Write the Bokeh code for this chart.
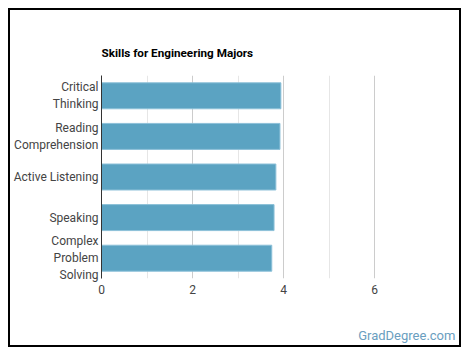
from bokeh.plotting import figure
from bokeh.models import FixedTicker, Range1d, LinearAxis
from bokeh.embed import file_html
from bokeh.resources import INLINE

skills = ["Critical\nThinking", "Reading\nComprehension", "Active Listening",
          "Speaking", "Complex\nProblem\nSolving"]
values = [3.94, 3.92, 3.83, 3.79, 3.74]
x_ticks = [0, 2, 4, 6]
x_minor_ticks = [1, 3, 5]
watermark = "GradDegree.com"
watermark_pos = 6.885   # where the watermark sits along the (extended) x scale

# outer box drawn by CSS border
p = figure(width=448, height=334, y_range=list(reversed(skills)),
           x_range=Range1d(0, 7.6), output_backend="svg", toolbar_location=None,
           frame_width=346, frame_height=203,
           min_border_left=90, min_border_right=12,
           min_border_top=65, min_border_bottom=66,
           margin=(8, 0, 0, 8),
           styles={"border": "2px solid #000000"})

p.hbar(y=skills, right=values, left=0, height=0.64,
       fill_color="#5ba3c2", line_color="#8cc0d8", line_width=1)

p.title.text = "Skills for Engineering Majors"
p.title.text_font = "Roboto"
p.title.text_font_size = "11.7px"
p.title.text_font_style = "bold"
p.title.text_color = "#000000"
p.title.align = "left"
p.title.standoff = 32

p.xaxis.ticker = FixedTicker(ticks=x_ticks, minor_ticks=x_minor_ticks)
p.xaxis.axis_line_color = None
p.xaxis.major_tick_line_color = None
p.xaxis.minor_tick_line_color = None
p.xaxis.major_tick_out = 0
p.xaxis.minor_tick_out = 0
p.xaxis.major_label_text_font = "Roboto"
p.xaxis.major_label_text_font_size = "12px"
p.xaxis.major_label_text_color = "#444444"
p.xaxis.major_label_standoff = 6

p.yaxis.axis_line_color = "#333333"
p.yaxis.axis_line_width = 1
p.yaxis.major_tick_line_color = None
p.yaxis.minor_tick_line_color = None
p.yaxis.major_tick_out = 0
p.yaxis.minor_tick_out = 0
p.yaxis.major_label_text_font = "Roboto"
p.yaxis.major_label_text_font_size = "12px"
p.yaxis.major_label_text_color = "#444444"
p.yaxis.major_label_standoff = 3

p.xgrid.grid_line_color = "#cccccc"
p.xgrid.minor_grid_line_color = "#e6e6e6"
p.ygrid.grid_line_color = None
p.outline_line_color = None

# watermark as a label-only axis below the main x axis
wm_axis = LinearAxis(ticker=FixedTicker(ticks=[watermark_pos], minor_ticks=[]),
                     major_label_overrides={watermark_pos: watermark},
                     axis_line_color=None, major_tick_line_color=None,
                     minor_tick_line_color=None, major_tick_out=0, minor_tick_out=0,
                     major_label_standoff=31,
                     major_label_text_font="Roboto",
                     major_label_text_font_size="13px",
                     major_label_text_color="#6a9ec0")
p.add_layout(wm_axis, "below")

open("out.html", "w").write(file_html(p, INLINE))
